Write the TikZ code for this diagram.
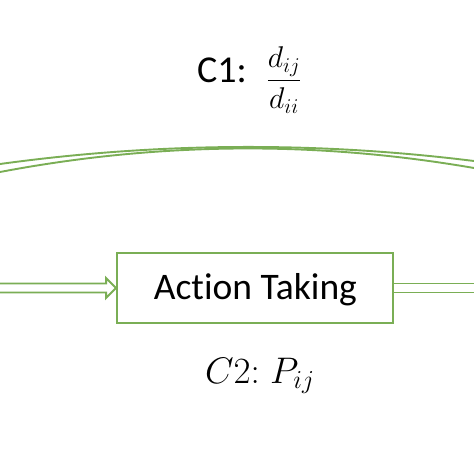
\RequirePackage{fix-cm}
\documentclass[tikz,border=0pt]{standalone}
\usepackage{fontspec}
\setmainfont{Carlito}[Ligatures=NoCommon]
\begin{document}
\begin{tikzpicture}[x=1pt,y=-1pt,
  gline/.style={draw=gcol, line width=1.9pt, line join=miter},
  lbl/.style={inner sep=0pt, outer sep=0pt}]
\definecolor{gcol}{HTML}{7AAE55}
\useasboundingbox (0,0) rectangle (474,474);
\clip (0,0) rectangle (474,474);
% main box
\node[gline, minimum width=276pt, minimum height=70pt, inner sep=0pt] (act) at (255,288) {};
\node[lbl, anchor=base, font=\fontsize{37.5}{40}\selectfont] (acttxt) at (255.4,299) {Action Taking};
% incoming hollow arrow
\draw[gline, fill=white] (act.west) -- ++(-10,-10) -- ++(0,5.5) -- ++(-120,0)
   -- ++(0,9) -- ++(120,0) -- ++(0,5.5) -- cycle;
% outgoing double line
\coordinate (rend) at (480,288);
\draw[gline] ([yshift=4.5pt]act.east) -- ([yshift=4.5pt]rend);
\draw[gline] ([yshift=-4.5pt]act.east) -- ([yshift=-4.5pt]rend);
% arc (double outline converging at top)
\coordinate (a1) at (0,164); \coordinate (a2) at (474,161);
\coordinate (b1) at (0,172); \coordinate (b2) at (474,168);
\draw[gline] (a1) .. controls (158,142.3) and (316,141.3) .. (a2);
\draw[gline] (b1) .. controls (158,142) and (316,140.7) .. (b2);
% labels
\node[lbl, anchor=base west, font=\fontsize{38}{42}\selectfont] (c1) at (197,82) {C1:};
\node[lbl, font=\fontsize{30}{34}\selectfont] (frac) at (284,80)
  {$\displaystyle\frac{d_{ij}\rule[-4pt]{0pt}{4pt}}{\rule{0pt}{24pt}d_{ii}}$};
\node[lbl, anchor=base west, font=\fontsize{37}{42}\selectfont] (c2) at (205,383) {$C2{:}\;P_{ij}$};
\end{tikzpicture}
\end{document}
